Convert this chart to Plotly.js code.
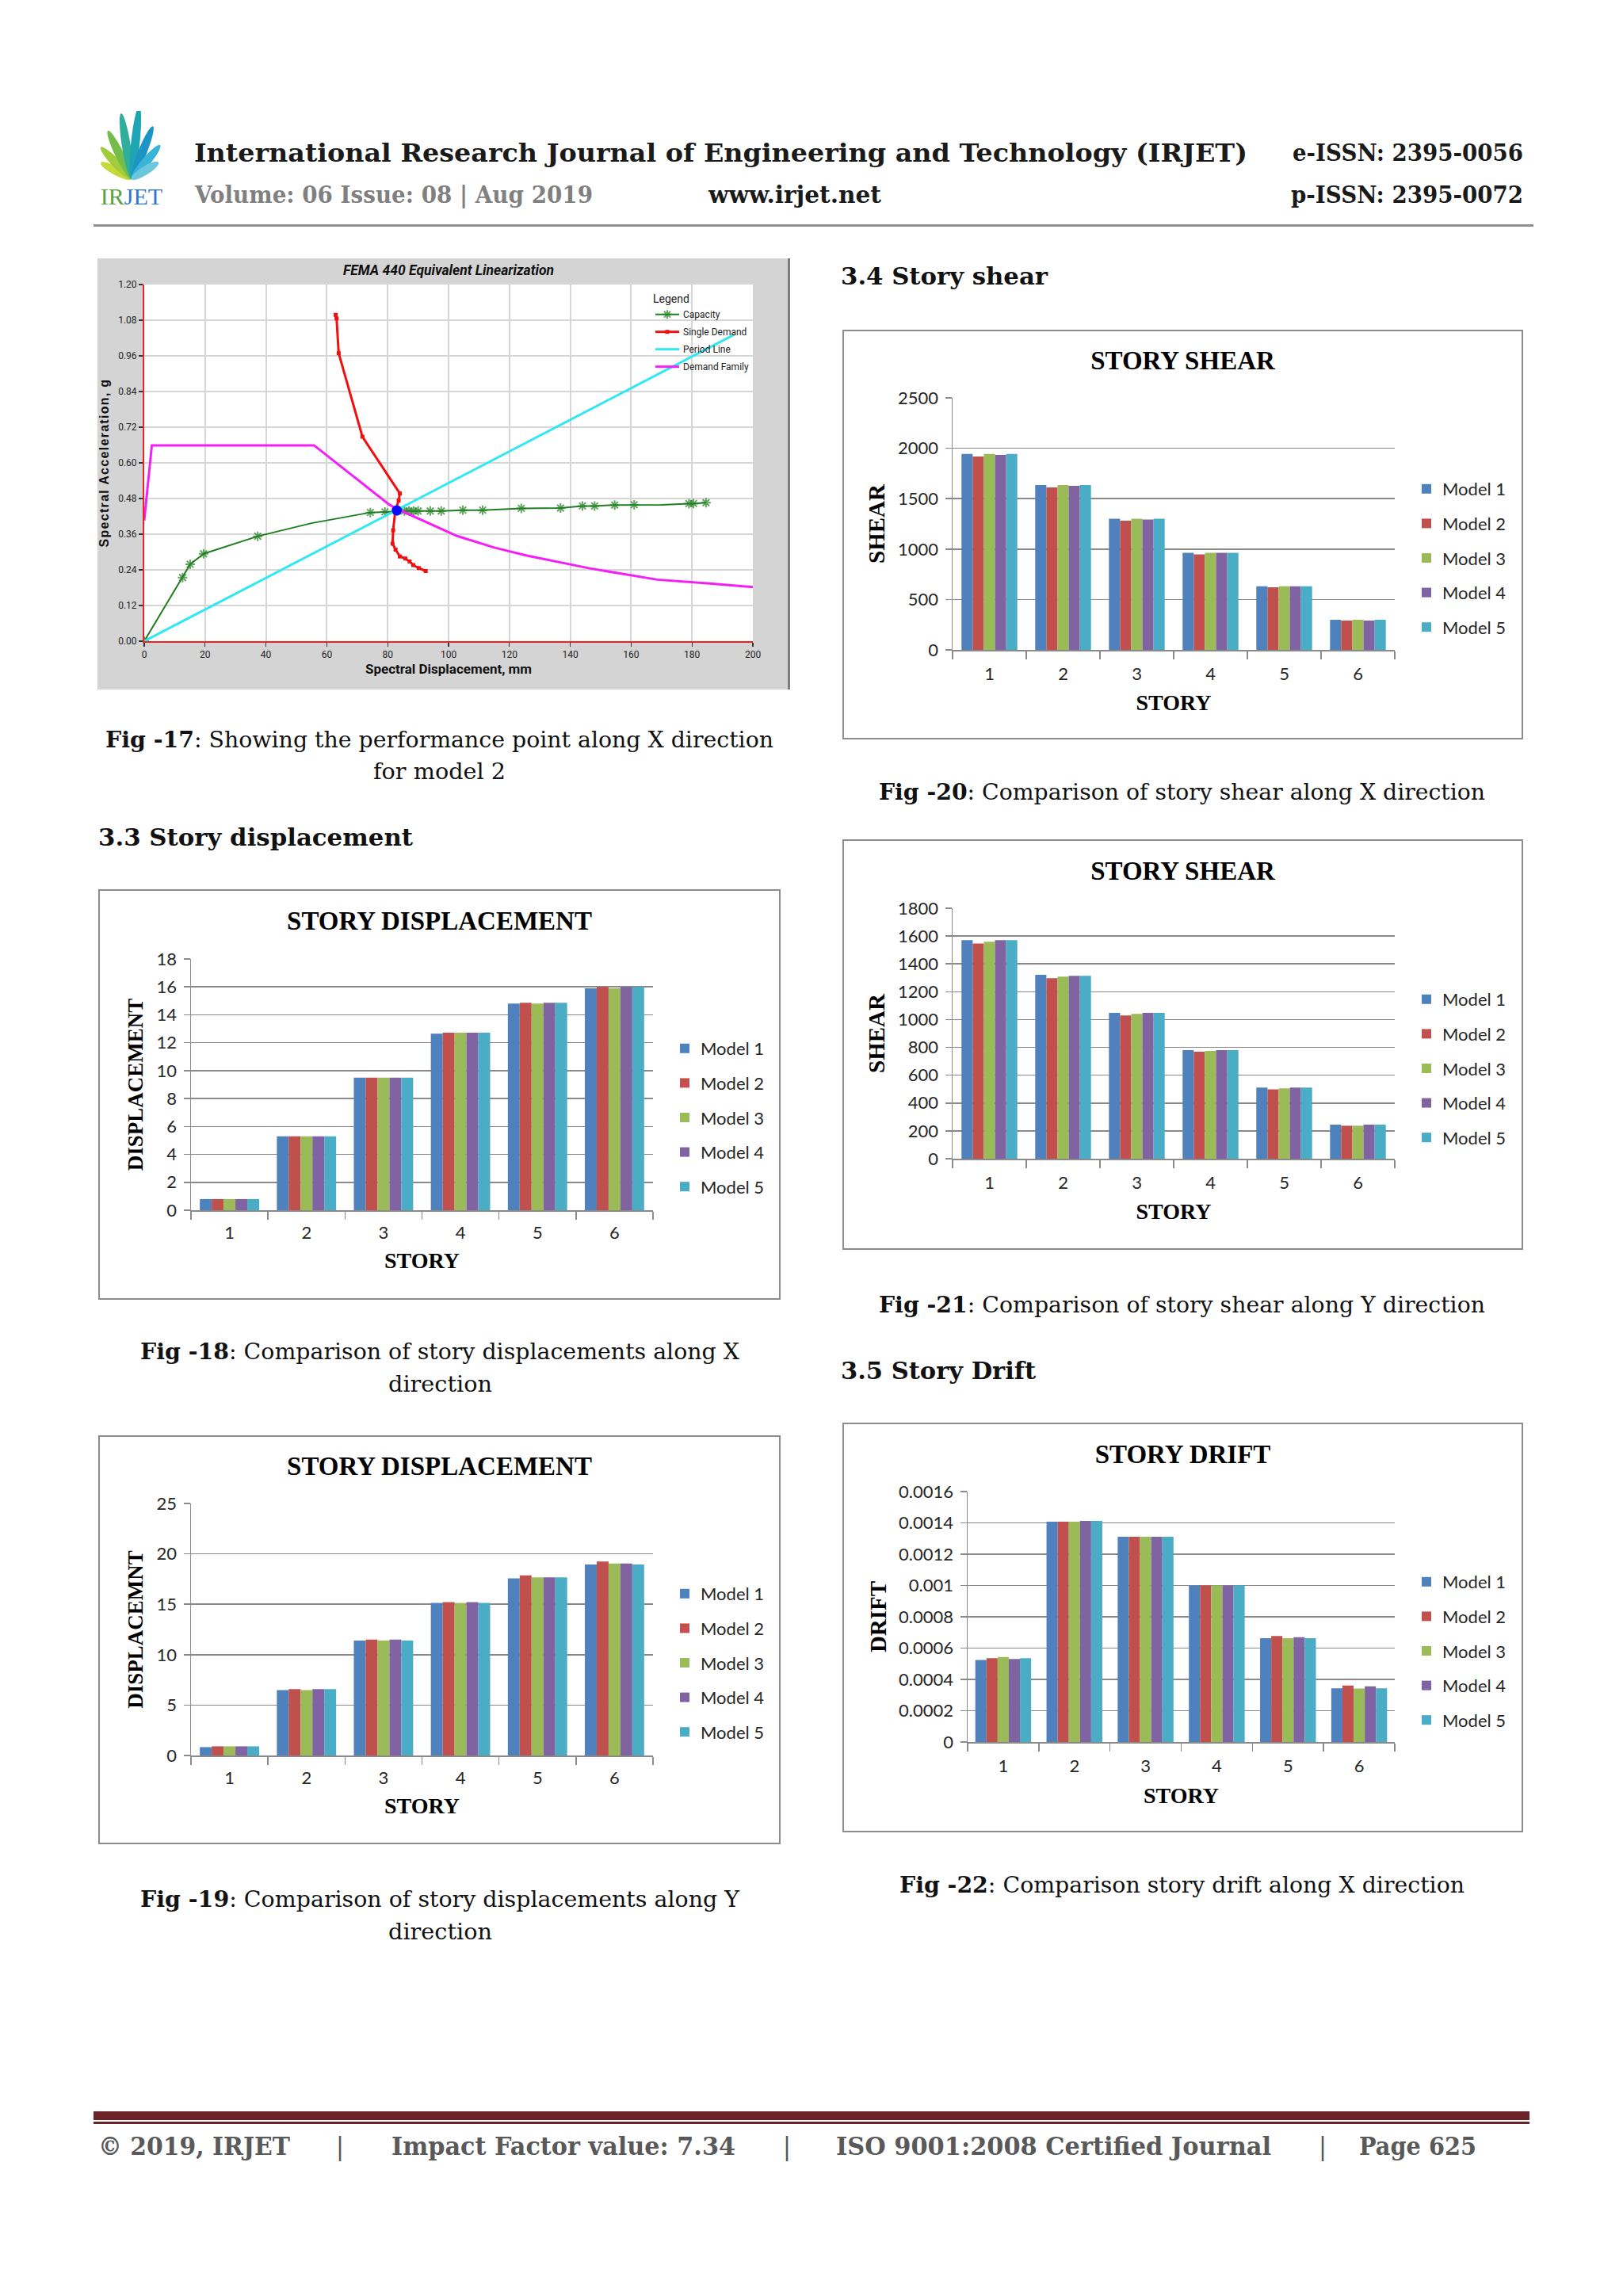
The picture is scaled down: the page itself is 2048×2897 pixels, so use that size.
<!DOCTYPE html>
<html>
<head>
<meta charset="utf-8">
<script src="https://cdn.plot.ly/plotly-3.0.1.min.js"></script>
<style>
  html, body { margin:0; padding:0; background:#ffffff; }
  body { width:2048px; height:2897px; position:relative; overflow:hidden; }
  .t { position:absolute; white-space:nowrap; line-height:1; }
  .chart { position:absolute; }
  .frame { position:absolute; box-sizing:border-box; pointer-events:none; z-index:5; }
</style>
</head>
<body>
<svg id="logo" style="position:absolute;left:110px;top:140px" width="120" height="135" viewBox="0 0 120 135"></svg>
<div class="frame" style="left:118px;top:283px;width:1817px;height:3px;background:#8f8f8f;"></div>
<div class="frame" style="left:118px;top:2664px;width:1812px;height:11px;background:#6b2328;"></div>
<div class="frame" style="left:118px;top:2677px;width:1812px;height:3px;background:#6b2328;"></div>

<script>
// ======================= DATA =======================
// Bar charts (Fig 18 - 22)
const stories = ['1', '2', '3', '4', '5', '6'];
const modelNames = ['Model 1', 'Model 2', 'Model 3', 'Model 4', 'Model 5'];
const modelColors = ['#4F81BD', '#C0504D', '#9BBB59', '#8064A2', '#4BACC6'];

// Fig 18: story displacement along X
const dispX_model1 = [0.80, 5.30, 9.50, 12.65, 14.80, 15.90];
const dispX_model2 = [0.80, 5.30, 9.50, 12.72, 14.86, 16.00];
const dispX_model3 = [0.80, 5.30, 9.50, 12.72, 14.80, 15.90];
const dispX_model4 = [0.80, 5.30, 9.50, 12.72, 14.86, 16.00];
const dispX_model5 = [0.80, 5.30, 9.50, 12.72, 14.86, 16.00];
const dispX_ticks = [0, 2, 4, 6, 8, 10, 12, 14, 16, 18];

// Fig 19: story displacement along Y
const dispY_model1 = [0.83, 6.48, 11.39, 15.14, 17.58, 18.94];
const dispY_model2 = [0.91, 6.59, 11.50, 15.22, 17.87, 19.24];
const dispY_model3 = [0.91, 6.48, 11.39, 15.14, 17.66, 19.05];
const dispY_model4 = [0.91, 6.59, 11.50, 15.22, 17.66, 19.05];
const dispY_model5 = [0.91, 6.59, 11.39, 15.14, 17.66, 18.94];
const dispY_ticks = [0, 5, 10, 15, 20, 25];

// Fig 20: story shear along X
const shearX_model1 = [1944, 1635, 1301, 964, 630, 299];
const shearX_model2 = [1918, 1611, 1282, 948, 622, 291];
const shearX_model3 = [1944, 1635, 1301, 964, 630, 299];
const shearX_model4 = [1934, 1627, 1293, 964, 630, 291];
const shearX_model5 = [1944, 1635, 1301, 964, 630, 299];
const shearX_ticks = [0, 500, 1000, 1500, 2000, 2500];

// Fig 21: story shear along Y
const shearY_model1 = [1571, 1322, 1048, 780, 511, 245];
const shearY_model2 = [1547, 1297, 1029, 769, 499, 237];
const shearY_model3 = [1559, 1308, 1041, 775, 505, 237];
const shearY_model4 = [1571, 1314, 1048, 780, 511, 245];
const shearY_model5 = [1571, 1314, 1048, 780, 511, 245];
const shearY_ticks = [0, 200, 400, 600, 800, 1000, 1200, 1400, 1600, 1800];

// Fig 22: story drift along X
const drift_model1 = [0.000524, 0.001408, 0.001312, 0.001000, 0.000663, 0.000343];
const drift_model2 = [0.000536, 0.001408, 0.001312, 0.001000, 0.000677, 0.000361];
const drift_model3 = [0.000543, 0.001408, 0.001312, 0.001000, 0.000663, 0.000342];
const drift_model4 = [0.000531, 0.001413, 0.001312, 0.001000, 0.000670, 0.000356];
const drift_model5 = [0.000536, 0.001413, 0.001312, 0.001000, 0.000663, 0.000343];
const drift_ticks = [0, 0.0002, 0.0004, 0.0006, 0.0008, 0.001, 0.0012, 0.0014, 0.0016];
const drift_tickLabels = ['0', '0.0002', '0.0004', '0.0006', '0.0008', '0.001', '0.0012', '0.0014', '0.0016'];

// Fig 17: FEMA 440 equivalent linearization
const capacity_sd = [0, 12.6, 15.1, 19.5, 37.3, 55.0, 74.3, 79.1, 83.1, 85.5, 87.0, 88.5, 90.0, 94.0, 97.6, 104.7, 111.2, 123.9, 136.8, 144.0, 148.0, 154.6, 161.0, 170.0, 179.0, 180.5, 184.6];
const capacity_sa = [0, 0.214, 0.259, 0.294, 0.353, 0.397, 0.433, 0.435, 0.438, 0.438, 0.438, 0.438, 0.438, 0.438, 0.438, 0.441, 0.441, 0.447, 0.448, 0.455, 0.455, 0.458, 0.459, 0.459, 0.463, 0.463, 0.466];
const capacity_marked = [1, 1, 1, 1, 1, 0, 1, 1, 1, 1, 1, 1, 1, 1, 1, 1, 1, 1, 1, 1, 1, 1, 1, 0, 1, 1, 1];
const demand_sd = [62.9, 63.2, 63.9, 71.7, 84.0, 83.6, 82.5, 81.8, 81.6, 82.6, 84.0, 85.8, 87.2, 88.4, 90.2, 92.5];
const demand_sa = [1.098, 1.086, 0.969, 0.688, 0.497, 0.473, 0.440, 0.373, 0.328, 0.308, 0.285, 0.278, 0.268, 0.256, 0.246, 0.236];
const period_sd = [0, 193.8];
const period_sa = [0, 1.031];
const family_sd = [0, 2.5, 55.8, 80.6, 83.1, 102.8, 115.0, 125.7, 146.4, 168.6, 185.0, 200.0];
const family_sa = [0.406, 0.659, 0.659, 0.459, 0.445, 0.354, 0.315, 0.288, 0.245, 0.207, 0.195, 0.182];
const perfPoint_sd = [83.0];
const perfPoint_sa = [0.440];
const fema_xticks = [0, 20, 40, 60, 80, 100, 120, 140, 160, 180, 200];
const fema_yticks = [0, 0.12, 0.24, 0.36, 0.48, 0.60, 0.72, 0.84, 0.96, 1.08, 1.20];

// ======================= FONTS =======================
const SERIF = "'DejaVu Serif', 'Liberation Serif', serif";
const TIMES = "'Liberation Serif', 'Times New Roman', serif";
const CALIBRI = "Lato, 'Liberation Sans', sans-serif";
const NARROW = "Roboto, 'Liberation Sans', sans-serif";
const ARIAL = "'Liberation Sans', Arial, sans-serif";

// ======================= LOGO =======================
(function drawLogo(){
  const svg = document.getElementById('logo');
  const ns = 'http://www.w3.org/2000/svg';
  const leaves = [
    {a:-62, ry:22, c:'#c6d93a'}, {a:-44, ry:28, c:'#a3cc3d'}, {a:-26, ry:34, c:'#74bd4a'},
    {a:-9, ry:42, c:'#2fae9c'}, {a:6, ry:46, c:'#1ea5b4'}, {a:22, ry:36, c:'#1c95c6'},
    {a:40, ry:28, c:'#37b4d6'}, {a:58, ry:20, c:'#6cc7dd'}
  ];
  leaves.forEach(l => {
    const e = document.createElementNS(ns, 'ellipse');
    e.setAttribute('cx', 56); e.setAttribute('cy', 86 - l.ry);
    e.setAttribute('rx', 5.5); e.setAttribute('ry', l.ry);
    e.setAttribute('fill', l.c);
    e.setAttribute('transform', `rotate(${l.a} 56 86)`);
    svg.appendChild(e);
  });
  const t = document.createElementNS(ns, 'text');
  t.setAttribute('x', 56); t.setAttribute('y', 118);
  t.setAttribute('text-anchor', 'middle');
  t.setAttribute('font-family', TIMES);
  t.setAttribute('font-size', 30);
  t.innerHTML = '<tspan fill="#5aa33a">IR</tspan><tspan fill="#2f78c8">JET</tspan>';
  svg.appendChild(t);
})();

// ======================= PAGE TEXT =======================
const pageTexts = [
  {h:'International Research Journal of Engineering and Technology (IRJET)', x0:245, x1:1574, y:193, fs:31, b:1, c:'#1a1a1a'},
  {h:'e-ISSN: 2395-0056', x0:1631, x1:1922, y:193, fs:30, b:1, c:'#1a1a1a'},
  {h:'Volume: 06 Issue: 08 | Aug 2019', x0:246, x1:748, y:246, fs:29, b:1, c:'#808080'},
  {h:'www.irjet.net', x0:894, x1:1112, y:246, fs:29, b:1, c:'#1a1a1a'},
  {h:'p-ISSN: 2395-0072', x0:1629, x1:1922, y:246, fs:30, b:1, c:'#1a1a1a'},
  {h:'<b>Fig -17</b>: Showing the performance point along X direction', x0:133, x1:976, y:934, fs:28, b:0, c:'#111'},
  {h:'for model 2', x0:471, x1:638, y:974, fs:28, b:0, c:'#111'},
  {h:'3.3 Story displacement', x0:124, x1:521, y:1057, fs:30, b:1, c:'#111'},
  {h:'<b>Fig -18</b>: Comparison of story displacements along X', x0:177, x1:933, y:1706, fs:28, b:0, c:'#111'},
  {h:'direction', x0:490, x1:621, y:1747, fs:28, b:0, c:'#111'},
  {h:'<b>Fig -19</b>: Comparison of story displacements along Y', x0:177, x1:933, y:2397, fs:28, b:0, c:'#111'},
  {h:'direction', x0:490, x1:621, y:2438, fs:28, b:0, c:'#111'},
  {h:'3.4 Story shear', x0:1061, x1:1322, y:349, fs:30, b:1, c:'#111'},
  {h:'<b>Fig -20</b>: Comparison of story shear along X direction', x0:1109, x1:1874, y:1000, fs:28, b:0, c:'#111'},
  {h:'<b>Fig -21</b>: Comparison of story shear along Y direction', x0:1109, x1:1874, y:1647, fs:28, b:0, c:'#111'},
  {h:'3.5 Story Drift', x0:1061, x1:1307, y:1730, fs:30, b:1, c:'#111'},
  {h:'<b>Fig -22</b>: Comparison story drift along X direction', x0:1135, x1:1848, y:2379, fs:28, b:0, c:'#111'},
  {h:'© 2019, IRJET', x0:124, x1:366, y:2708, fs:31, b:1, c:'#595959'},
  {h:'|', x0:429, x1:null, y:2708, fs:31, b:0, c:'#595959'},
  {h:'Impact Factor value: 7.34', x0:494, x1:928, y:2708, fs:31, b:1, c:'#595959'},
  {h:'|', x0:993, x1:null, y:2708, fs:31, b:0, c:'#595959'},
  {h:'ISO 9001:2008 Certified Journal', x0:1055, x1:1604, y:2708, fs:31, b:1, c:'#595959'},
  {h:'|', x0:1669, x1:null, y:2708, fs:31, b:0, c:'#595959'},
  {h:'Page 625', x0:1715, x1:1863, y:2708, fs:31, b:1, c:'#595959'}
];
pageTexts.forEach(d => {
  const el = document.createElement('div');
  el.className = 't';
  el.innerHTML = d.h;
  el.style.fontFamily = SERIF;
  el.style.fontSize = d.fs + 'px';
  el.style.fontWeight = d.b ? 'bold' : 'normal';
  el.style.color = d.c;
  el.style.top = (d.y - d.fs * 0.5) + 'px';
  document.body.appendChild(el);
  const w = el.getBoundingClientRect().width;
  if (d.x1 === null) {
    el.style.left = (d.x0 - w / 2) + 'px';
  } else {
    el.style.left = d.x0 + 'px';
    el.style.transformOrigin = '0 50%';
    el.style.transform = 'scaleX(' + ((d.x1 - d.x0) / w).toFixed(4) + ')';
  }
});

// ======================= BAR CHARTS =======================
function barChart(cfg) {
  const box = cfg.box, p = cfg.plot;
  const div = document.createElement('div');
  div.className = 'chart';
  div.style.left = box.x + 'px'; div.style.top = box.y + 'px';
  div.style.width = box.w + 'px'; div.style.height = box.h + 'px';
  document.body.appendChild(div);
  const fr = document.createElement('div');
  fr.className = 'frame';
  fr.style.left = box.x + 'px'; fr.style.top = box.y + 'px';
  fr.style.width = box.w + 'px'; fr.style.height = box.h + 'px';
  fr.style.border = '2px solid #8c8c8c';
  document.body.appendChild(fr);

  const traces = cfg.series.map((ys, i) => ({
    type: 'bar', x: stories, y: ys, name: modelNames[i],
    marker: {color: modelColors[i], line: {width: 0}},
    legendgroup: 'g' + i, hoverinfo: 'skip'
  }));
  const layout = {
    width: box.w, height: box.h,
    margin: {l: p.x0 - box.x, r: box.x + box.w - p.x1, t: p.y0 - box.y, b: box.y + box.h - p.y1, pad: 0},
    paper_bgcolor: '#ffffff', plot_bgcolor: '#ffffff',
    barmode: 'group', bargap: cfg.bargap, bargroupgap: 0,
    showlegend: true,
    legend: {
      xref: 'container', yref: 'container',
      x: (cfg.legX - box.x) / box.w, y: 1 - (cfg.legY - box.y) / box.h,
      xanchor: 'left', yanchor: 'top',
      font: {family: CALIBRI, size: 22, color: '#262626'},
      tracegroupgap: 12, itemwidth: 30, bgcolor: 'rgba(0,0,0,0)', borderwidth: 0
    },
    title: {
      text: '<b>' + cfg.title + '</b>',
      font: {family: TIMES, size: 33, color: '#000'},
      xref: 'container', yref: 'container', x: 0.5, xanchor: 'center',
      y: 1 - (cfg.titleY - box.y) / box.h, yanchor: 'middle'
    },
    xaxis: {
      type: 'category', showline: true, linecolor: '#8a8a8a', linewidth: 1.5,
      ticks: 'outside', tickson: 'boundaries', ticklen: 10, tickwidth: 1.5, tickcolor: '#8a8a8a',
      tickfont: {family: CALIBRI, size: 22, color: '#262626'}, ticklabelstandoff: cfg.xLabStandoff,
      showgrid: false, zeroline: false, fixedrange: true,
      title: {text: '<b>STORY</b>', font: {family: TIMES, size: 28, color: '#000'}, standoff: cfg.xStandoff}
    },
    yaxis: {
      range: cfg.range, tickvals: cfg.ticks, ticktext: cfg.tickText,
      showline: true, linecolor: '#8a8a8a', linewidth: 1.5,
      ticks: 'outside', ticklen: 8, tickwidth: 1.5, tickcolor: '#8a8a8a',
      tickfont: {family: CALIBRI, size: 22, color: '#262626'}, ticklabelstandoff: 4,
      showgrid: true, gridcolor: '#8a8a8a', gridwidth: 1.5, zeroline: false, fixedrange: true,
      title: {text: '<b>' + cfg.ytitle + '</b>', font: {family: TIMES, size: cfg.ytitleSize, color: '#000'}, standoff: cfg.yStandoff}
    }
  };
  Plotly.newPlot(div, traces, layout, {staticPlot: true, displayModeBar: false});
}

barChart({
  box: {x: 124, y: 1122, w: 861, h: 518}, plot: {x0: 241, x1: 824, y0: 1210, y1: 1527},
  series: [dispX_model1, dispX_model2, dispX_model3, dispX_model4, dispX_model5],
  range: [0, 18], ticks: dispX_ticks, tickText: dispX_ticks.map(String),
  title: 'STORY DISPLACEMENT', titleY: 1161, ytitle: 'DISPLACEMENT', ytitleSize: 27,
  legX: 844, legY: 1302, bargap: 0.23, xLabStandoff: 8, xStandoff: 13, yStandoff: 9
});
barChart({
  box: {x: 124, y: 1811, w: 861, h: 516}, plot: {x0: 241, x1: 824, y0: 1897, y1: 2215},
  series: [dispY_model1, dispY_model2, dispY_model3, dispY_model4, dispY_model5],
  range: [0, 25], ticks: dispY_ticks, tickText: dispY_ticks.map(String),
  title: 'STORY DISPLACEMENT', titleY: 1849, ytitle: 'DISPLACEMNT', ytitleSize: 27,
  legX: 844, legY: 1990, bargap: 0.23, xLabStandoff: 8, xStandoff: 13, yStandoff: 9
});
barChart({
  box: {x: 1063, y: 416, w: 859, h: 517}, plot: {x0: 1202, x1: 1760, y0: 502, y1: 820},
  series: [shearX_model1, shearX_model2, shearX_model3, shearX_model4, shearX_model5],
  range: [0, 2500], ticks: shearX_ticks, tickText: shearX_ticks.map(String),
  title: 'STORY SHEAR', titleY: 454, ytitle: 'SHEAR', ytitleSize: 29,
  legX: 1780, legY: 596, bargap: 0.243, xLabStandoff: 10, xStandoff: 14, yStandoff: 8
});
barChart({
  box: {x: 1063, y: 1059, w: 859, h: 518}, plot: {x0: 1202, x1: 1760, y0: 1146, y1: 1462},
  series: [shearY_model1, shearY_model2, shearY_model3, shearY_model4, shearY_model5],
  range: [0, 1800], ticks: shearY_ticks, tickText: shearY_ticks.map(String),
  title: 'STORY SHEAR', titleY: 1098, ytitle: 'SHEAR', ytitleSize: 29,
  legX: 1780, legY: 1240, bargap: 0.243, xLabStandoff: 10, xStandoff: 14, yStandoff: 8
});
barChart({
  box: {x: 1063, y: 1795, w: 859, h: 517}, plot: {x0: 1221, x1: 1760, y0: 1882, y1: 2198},
  series: [drift_model1, drift_model2, drift_model3, drift_model4, drift_model5],
  range: [0, 0.0016], ticks: drift_ticks, tickText: drift_tickLabels,
  title: 'STORY DRIFT', titleY: 1834, ytitle: 'DRIFT', ytitleSize: 29,
  legX: 1780, legY: 1975, bargap: 0.216, xLabStandoff: 10, xStandoff: 15, yStandoff: 7
});

// ======================= FEMA 440 CHART =======================
(function fema(){
  const box = {x: 123, y: 326, w: 874, h: 544};
  const p = {x0: 182, x1: 950, y0: 359, y1: 809};
  const div = document.createElement('div');
  div.className = 'chart';
  div.style.left = box.x + 'px'; div.style.top = box.y + 'px';
  div.style.width = box.w + 'px'; div.style.height = box.h + 'px';
  document.body.appendChild(div);
  const fr = document.createElement('div');
  fr.className = 'frame';
  fr.style.left = box.x + 'px'; fr.style.top = box.y + 'px';
  fr.style.width = box.w + 'px'; fr.style.height = box.h + 'px';
  fr.style.borderRight = '3px solid #7d7d7d';
  document.body.appendChild(fr);

  const traces = [
    {type: 'scatter', mode: 'lines+markers', x: capacity_sd, y: capacity_sa, name: 'Capacity',
     legendgroup: 'a', line: {color: '#1f7f1f', width: 2},
     marker: {symbol: 'asterisk-open', size: capacity_marked.map(m => m ? 10 : 0), color: '#1f7f1f', line: {color: '#1f7f1f', width: 2}}},
    {type: 'scatter', mode: 'lines+markers', x: demand_sd, y: demand_sa, name: 'Single Demand',
     legendgroup: 'b', line: {color: '#f01010', width: 3}, marker: {symbol: 'square', size: 5, color: '#f01010'}},
    {type: 'scatter', mode: 'lines', x: period_sd, y: period_sa, name: 'Period Line',
     legendgroup: 'c', line: {color: '#2ee8f2', width: 3}},
    {type: 'scatter', mode: 'lines', x: family_sd, y: family_sa, name: 'Demand Family',
     legendgroup: 'd', line: {color: '#f51ef5', width: 3}},
    {type: 'scatter', mode: 'markers', x: perfPoint_sd, y: perfPoint_sa, name: 'Performance Point',
     showlegend: false, marker: {color: '#0a0aff', size: 13}}
  ];
  const layout = {
    width: box.w, height: box.h,
    margin: {l: p.x0 - box.x, r: box.x + box.w - p.x1, t: p.y0 - box.y, b: box.y + box.h - p.y1, pad: 0},
    paper_bgcolor: '#d4d4d4', plot_bgcolor: '#ffffff',
    showlegend: true,
    legend: {
      xref: 'paper', yref: 'paper', x: (822 - p.x0) / (p.x1 - p.x0), y: (p.y1 - 364) / (p.y1 - p.y0),
      xanchor: 'left', yanchor: 'top', bgcolor: 'rgba(0,0,0,0)',
      font: {family: NARROW, size: 12, color: '#222'}, tracegroupgap: 3,
      title: {text: 'Legend', font: {family: NARROW, size: 14, color: '#222'}}
    },
    title: {
      text: '<b><i>FEMA 440 Equivalent Linearization</i></b>',
      font: {family: NARROW, size: 17.5, color: '#111'},
      xref: 'paper', x: 0.5, xanchor: 'center', yref: 'container', y: 1 - (341 - box.y) / box.h, yanchor: 'middle'
    },
    xaxis: {
      range: [0, 200], tickvals: fema_xticks, ticktext: fema_xticks.map(String),
      showline: true, linecolor: '#ee2222', linewidth: 2, mirror: false,
      ticks: 'outside', ticklen: 5, tickcolor: '#333', tickwidth: 1.2,
      tickfont: {family: NARROW, size: 12, color: '#222'},
      showgrid: true, gridcolor: '#d6d6d6', gridwidth: 2, zeroline: false,
      title: {text: '<b>Spectral Displacement, mm</b>', font: {family: NARROW, size: 17, color: '#111'}, standoff: 6}
    },
    yaxis: {
      range: [0, 1.2], tickvals: fema_yticks, ticktext: fema_yticks.map(v => v.toFixed(2)),
      showline: true, linecolor: '#ee2222', linewidth: 2, mirror: false,
      ticks: 'outside', ticklen: 5, tickcolor: '#333', tickwidth: 1.2,
      tickfont: {family: NARROW, size: 12, color: '#222'},
      showgrid: true, gridcolor: '#d6d6d6', gridwidth: 2, zeroline: false,
      title: {text: '<b>Spectral Acceleration, g</b>', font: {family: ARIAL, size: 16, color: '#111'}, standoff: 10}
    }
  };
  Plotly.newPlot(div, traces, layout, {staticPlot: true, displayModeBar: false}).then(gd => {
    const yt = gd.querySelector('.ytitle');
    if (yt) yt.style.letterSpacing = '1.3px';
  });
})();
</script>
</body>
</html>
